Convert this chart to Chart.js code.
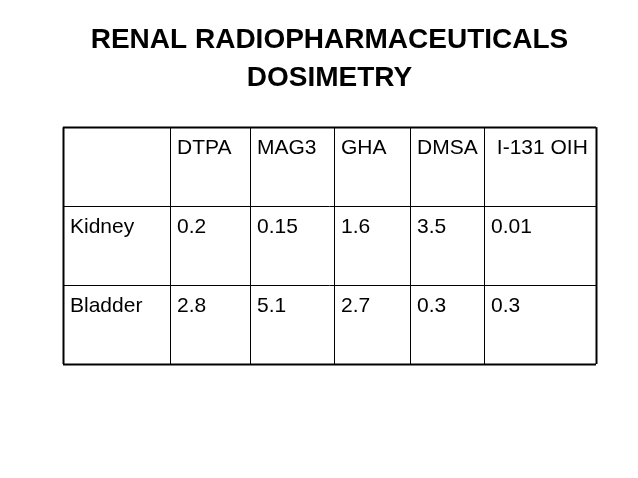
<!DOCTYPE html>
<html>
<head>
<meta charset="utf-8">
<script src="https://cdn.jsdelivr.net/npm/chart.js@4"></script>
<style>
  html, body { margin: 0; padding: 0; background: #fff; }
  #wrap { width: 638px; height: 478px; }
</style>
</head>
<body>
<div id="wrap"><canvas id="c"></canvas></div>
<script>
// table contents
const columns = ['DTPA', 'MAG3', 'GHA', 'DMSA', ' I-131 OIH'];
const rowLabels = ['Kidney', 'Bladder'];
const kidney = ['0.2', '0.15', '1.6', '3.5', '0.01'];
const bladder = ['2.8', '5.1', '2.7', '0.3', '0.3'];

// column widths in px units (style)
const colWidths = [107, 80, 84, 76, 74, 112];
const totalW = colWidths.reduce((a, b) => a + b, 0);

const tablePlugin = {
  id: 'tablePlugin',
  afterDraw(chart) {
    const { ctx, scales: { x, y } } = chart;
    const edges = [0];
    colWidths.forEach(w => edges.push(edges[edges.length - 1] + w));
    const rows = [[''].concat(columns), [rowLabels[0]].concat(kidney), [rowLabels[1]].concat(bladder)];

    ctx.save();
    ctx.strokeStyle = '#000';
    // horizontal lines
    for (let r = 0; r <= 3; r++) {
      const py = Math.round(y.getPixelForValue(r)) + 0.5;
      ctx.lineWidth = (r === 0 || r === 3) ? 2 : 1;
      ctx.beginPath();
      ctx.moveTo(x.getPixelForValue(0), py);
      ctx.lineTo(x.getPixelForValue(totalW), py);
      ctx.stroke();
    }
    // vertical lines
    edges.forEach((e, i) => {
      const px = Math.round(x.getPixelForValue(e)) + 0.5;
      ctx.lineWidth = (i === 0 || i === edges.length - 1) ? 2 : 1;
      ctx.beginPath();
      ctx.moveTo(px, y.getPixelForValue(0));
      ctx.lineTo(px, y.getPixelForValue(3));
      ctx.stroke();
    });
    // text
    ctx.fillStyle = '#000';
    ctx.font = '21px "Liberation Sans", Arial, sans-serif';
    ctx.textAlign = 'left';
    ctx.textBaseline = 'middle';
    rows.forEach((row, r) => {
      const top = y.getPixelForValue(r);
      row.forEach((txt, c) => {
        ctx.fillText(txt, x.getPixelForValue(edges[c]) + 7, top + 21);
      });
    });
    ctx.restore();
  }
};

new Chart(document.getElementById('c').getContext('2d'), {
  type: 'scatter',
  data: { datasets: [{ data: [] }] },
  options: {
    responsive: true,
    maintainAspectRatio: false,
    animation: false,
    layout: { padding: { left: 63, right: 42, top: 0, bottom: 114 } },
    plugins: {
      legend: { display: false },
      tooltip: { enabled: false },
      title: {
        display: true,
        text: ['RENAL RADIOPHARMACEUTICALS', 'DOSIMETRY'],
        color: '#000',
        font: { family: '"Liberation Sans", Arial, sans-serif', size: 28, weight: 'bold', lineHeight: 1.36 },
        padding: { top: 21, bottom: 30 }
      }
    },
    scales: {
      x: { type: 'linear', display: false, min: 0, max: totalW },
      y: { type: 'linear', display: false, min: 0, max: 3, reverse: true }
    }
  },
  plugins: [tablePlugin]
});
</script>
</body>
</html>
